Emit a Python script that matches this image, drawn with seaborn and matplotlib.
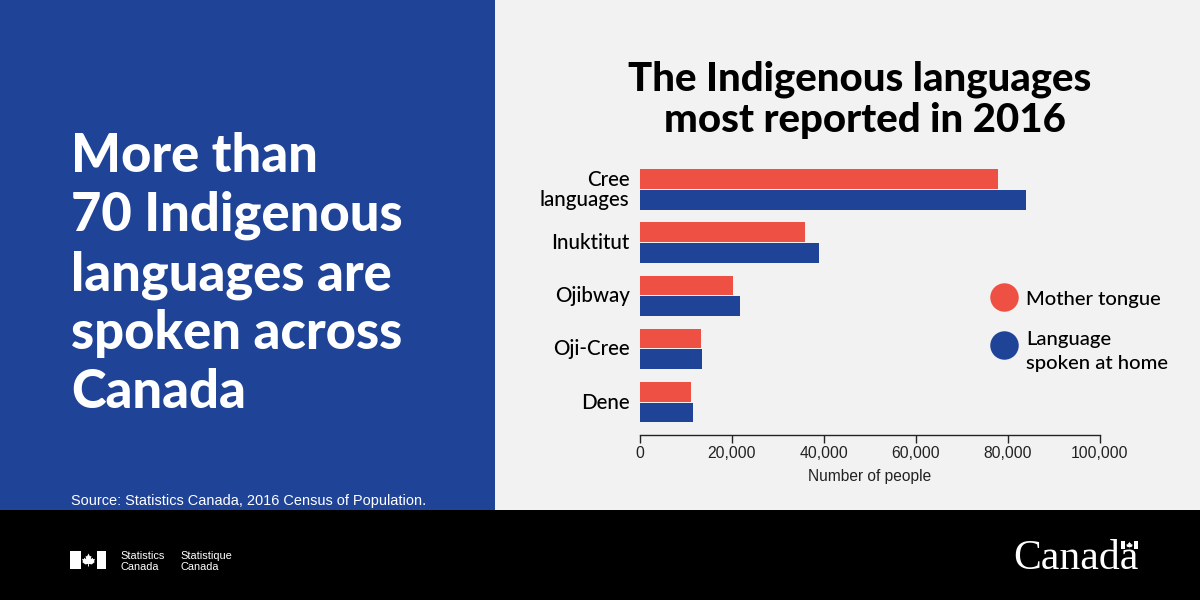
import matplotlib
matplotlib.use("Agg")
import matplotlib.pyplot as plt
from matplotlib.patches import Polygon, Rectangle
from matplotlib.ticker import FuncFormatter
from matplotlib.transforms import ScaledTranslation
import pandas as pd
import seaborn as sns

languages = ["Cree\nlanguages", "Inuktitut", "Ojibway", "Oji-Cree", "Dene"]
mother_tongue = [77900, 35900, 20300, 13300, 11100]
spoken_at_home = [83900, 38900, 21700, 13600, 11500]
series_names = ["Mother tongue", "Language\nspoken at home"]
xticks = [0, 20000, 40000, 60000, 80000, 100000]

headline = ["More than", "70 Indigenous", "languages are", "spoken across", "Canada"]
headline_y = [172, 231, 290, 349, 408]
title_lines = ["The Indigenous languages", "most reported in 2016"]
title_x = [860, 865]
title_y = [91, 132]

BLUE = "#1f4397"
RED = "#ee5044"
BG = "#f2f2f2"
W, H = 1200, 600

sns.set_theme(style="white")
plt.rcParams["font.family"] = ["Liberation Sans", "DejaVu Sans"]

df = pd.DataFrame({
    "language": languages * 2,
    "people": mother_tongue + spoken_at_home,
    "series": [series_names[0]] * 5 + [series_names[1]] * 5,
})

fig = plt.figure(figsize=(12, 6), dpi=100, facecolor=BG)

# background panels and logos, in pixel coords
bg = fig.add_axes([0, 0, 1, 1], zorder=0)
bg.set_xlim(0, W)
bg.set_ylim(H, 0)
bg.axis("off")
bg.add_patch(Rectangle((0, 0), 495, 510, color=BLUE, lw=0))
bg.add_patch(Rectangle((0, 510), W, 90, color="black", lw=0))

for txt, y in zip(headline, headline_y):
    bg.text(71, y, txt, color="white", fontsize=37.8, family="Lato", weight="black",
            va="baseline", ha="left")
for txt, x, y in zip(title_lines, title_x, title_y):
    bg.text(x, y, txt, color="black", fontsize=28.9, family="Lato", weight="black",
            va="baseline", ha="center")

bg.text(71, 505, "Source: Statistics Canada, 2016 Census of Population.", color="white",
        fontsize=10.45, va="baseline")


def leaf(cx, cy, s):
    pts = [(0, -1), (.22, -.55), (.45, -.65), (.35, -.1), (.62, -.35), (.72, -.12), (1, -.18),
           (.85, .2), (.98, .3), (.5, .68), (.07, .6), (.07, 1), (-.07, 1), (-.07, .6),
           (-.5, .68), (-.98, .3), (-.85, .2), (-1, -.18), (-.72, -.12), (-.62, -.35),
           (-.35, -.1), (-.45, -.65), (-.22, -.55)]
    bg.add_patch(Polygon([(cx + x * s, cy + y * s) for x, y in pts], color="white", lw=0))


# statcan signature
bg.add_patch(Rectangle((70, 551), 10.5, 18, color="white", lw=0))
bg.add_patch(Rectangle((97, 551), 9, 18, color="white", lw=0))
leaf(88.5, 560, 6.5)
for x, a, b in [(120.5, "Statistics", "Canada"), (180.5, "Statistique", "Canada")]:
    bg.text(x, 559, a, color="white", fontsize=7.9, va="baseline")
    bg.text(x, 569.5, b, color="white", fontsize=7.9, va="baseline")

# canada wordmark
bg.text(1013, 569, "Canada", color="white", fontsize=30, family="Liberation Serif",
        va="baseline")
bg.add_patch(Rectangle((1121, 541), 4, 8, color="white", lw=0))
bg.add_patch(Rectangle((1134, 541), 4, 8, color="white", lw=0))
leaf(1129.5, 545, 3.2)

# chart
left, right, top, bottom = 640, 1099.5, 155, 435
ax = fig.add_axes([left / W, 1 - bottom / H, (right - left) / W, (bottom - top) / H], zorder=1)
ax.patch.set_alpha(0)
sns.barplot(data=df, y="language", x="people", hue="series", order=languages,
            hue_order=series_names, palette=[RED, BLUE], orient="h", width=0.78, gap=0.05,
            saturation=1, legend=False, linewidth=0, ax=ax)

ax.set_xlim(0, 100000)
ax.set_ylim(4.62, -0.65)
ax.set_xticks(xticks)
ax.xaxis.set_major_formatter(FuncFormatter(lambda v, _: f"{int(v):,}"))
ax.set_xlabel("Number of people", fontsize=11.2, color="#222222", labelpad=5.5)
ax.set_ylabel("")
ax.tick_params(axis="x", length=6, width=1, color="#222222", labelsize=11.3,
               labelcolor="#222222", pad=2, bottom=True)
ax.tick_params(axis="y", length=0, pad=7.5)
nudge = ScaledTranslation(0, 1.5 / 100, fig.dpi_scale_trans)
for lab in ax.get_yticklabels():
    lab.set_fontfamily("Lato")
    lab.set_fontweight("medium")
    lab.set_fontsize(14.8)
    lab.set_color("black")
    lab.set_linespacing(1.0)
    lab.set_transform(lab.get_transform() + nudge)
sns.despine(ax=ax, left=True)
ax.spines["bottom"].set_color("#222222")
ax.spines["bottom"].set_linewidth(1)

# legend
for y, c in zip([297, 345], [RED, BLUE]):
    bg.scatter([1003.5], [y], s=420, color=c, linewidths=0)
bg.text(1026, 305, series_names[0], color="black", fontsize=14.6, family="Lato",
        weight="medium", va="baseline")
for txt, y in zip(series_names[1].split("\n"), [345, 369]):
    bg.text(1026, y, txt, color="black", fontsize=14.6, family="Lato", weight="medium",
            va="baseline")

fig.savefig("out.png", dpi=100)
